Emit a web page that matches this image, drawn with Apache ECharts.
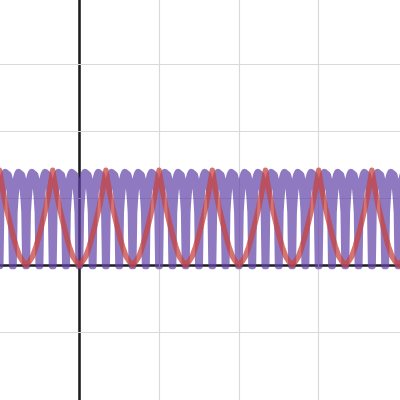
<!DOCTYPE html>
<html lang="en">
<head>
    <meta charset="UTF-8">
    <title>Waves</title>
    <script src="https://cdn.jsdelivr.net/npm/echarts@6/dist/echarts.min.js"></script>
    <style>
        html, body { margin: 0; padding: 0; background: #fff; }
        #chart { width: 400px; height: 400px; }
    </style>
</head>
<body>
    <div id="chart"></div>
    <script type="text/javascript">
        // view window (grid units)
        var xMin = -0.994, xMax = 4.019;
        var yMin = -2.013, yMax = 3.966;

        // grid lines
        var xGridLines = [1, 2, 3];
        var yGridLines = [-1, 1, 2, 3];

        // red curve: one rise from trough to peak, read every 1/24 unit
        var redHalfWidth = 1 / 3;
        var redRise = [0, 0.06, 0.14, 0.28, 0.46, 0.66, 0.87, 1.12, 1.42];

        // purple curve: one rise from trough to peak, read every 1/96 unit
        var purpleHalfWidth = 1 / 12;
        var purpleRise = [0, 0.79, 0.99, 1.13, 1.23, 1.30, 1.35, 1.38, 1.39];

        // repeat a read half-cycle (rise then mirrored fall) over the window
        function tile(rise, half) {
            var pts = [];
            var step = half / (rise.length - 1);
            var start = Math.floor(xMin / (2 * half)) * 2 * half;
            for (var c = start; c < xMax + 2 * half; c += 2 * half) {
                for (var i = 0; i < rise.length; i++) pts.push([c + i * step, rise[i]]);
                for (var j = rise.length - 2; j > 0; j--) pts.push([c + half + (rise.length - 1 - j) * step, rise[j]]);
            }
            return pts;
        }

        var chart = echarts.init(document.getElementById('chart'));

        var axisStyle = {
            show: true,
            onZero: true,
            lineStyle: { color: '#1e1e1e', width: 2.6 }
        };

        chart.setOption({
            animation: false,
            grid: { left: 0, right: 0, top: 0, bottom: 0 },
            xAxis: {
                type: 'value', min: xMin, max: xMax,
                axisLine: axisStyle, axisTick: { show: false },
                axisLabel: { show: false }, splitLine: { show: false }
            },
            yAxis: {
                type: 'value', min: yMin, max: yMax,
                axisLine: axisStyle, axisTick: { show: false },
                axisLabel: { show: false }, splitLine: { show: false }
            },
            series: [{
                type: 'line',
                data: [],
                silent: true,
                markLine: {
                    silent: true,
                    z: 1,
                    symbol: 'none',
                    label: { show: false },
                    lineStyle: { color: '#d9d9d9', width: 1.2, type: 'solid' },
                    data: xGridLines.map(function (v) { return { xAxis: v }; })
                        .concat(yGridLines.map(function (v) { return { yAxis: v }; }))
                }
            }, {
                name: 'purple',
                type: 'line',
                z: 3,
                data: tile(purpleRise, purpleHalfWidth),
                showSymbol: false,
                silent: true,
                lineStyle: { color: '#6042a6', opacity: 0.7, width: 8, join: 'round', cap: 'round' }
            }, {
                name: 'red',
                type: 'line',
                z: 4,
                data: tile(redRise, redHalfWidth),
                showSymbol: false,
                silent: true,
                lineStyle: { color: '#c74440', opacity: 0.75, width: 5.5, join: 'round', cap: 'round' }
            }]
        });
    </script>
</body>
</html>
